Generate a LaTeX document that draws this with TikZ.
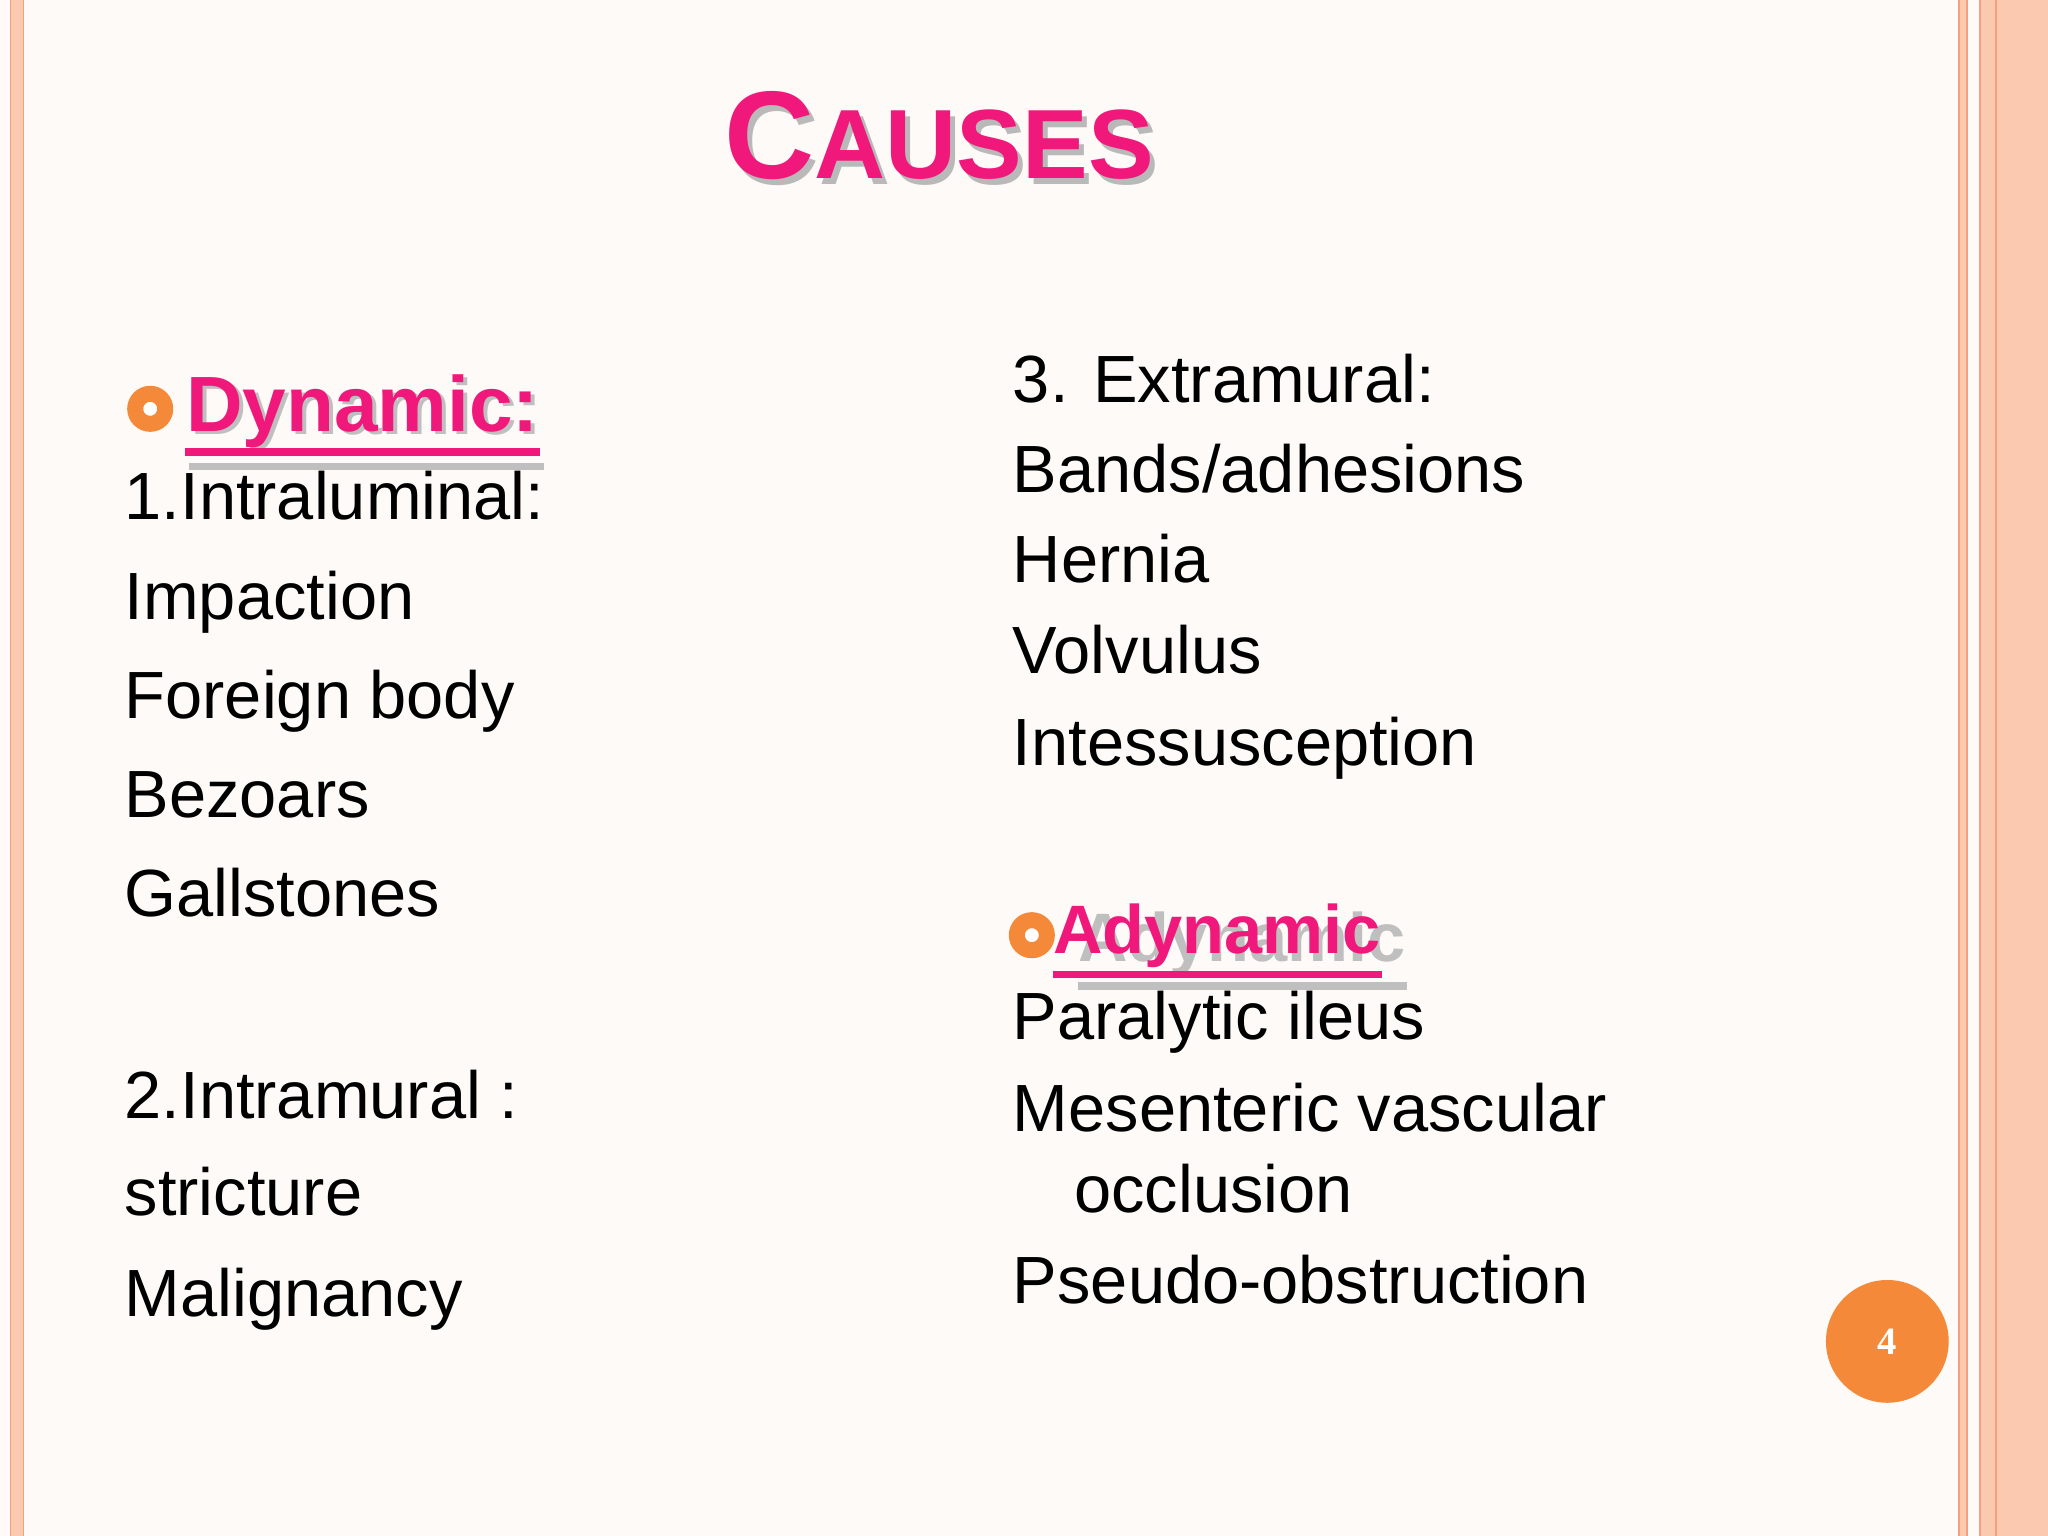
\documentclass[tikz,border=0pt]{standalone}
\usepackage{fontspec}
\setmainfont{Liberation Sans}
\newfontfamily\serifnum{Liberation Serif}
\definecolor{bg}{HTML}{FEFAF7}
\definecolor{peach}{HTML}{FBC8B0}
\definecolor{edge}{HTML}{F4A080}
\definecolor{hot}{HTML}{F0187A}
\definecolor{orng}{HTML}{F5893A}
\begin{document}
\begin{tikzpicture}[x=0.01306cm,y=-0.01306cm,
  body/.style={anchor=base west,inner sep=0pt,font=\fontsize{19}{22}\selectfont},
  head/.style={anchor=base west,inner sep=0pt,font=\bfseries,text=hot},
  ul/.style={line width=2.2pt},
  bul/.style={circle,draw=orng,line width=1.6mm,fill=white,minimum size=0.3cm,inner sep=0pt}]
\fill[bg] (0,0) rectangle (1568,1176);
\useasboundingbox (0,0) rectangle (1568,1176);
% left border
\fill[peach] (8,0) rectangle (18,1176);
\draw[edge,line width=0.4pt] (8,0) -- (8,1176) (18,0) -- (18,1176);
% right border
\fill[peach] (1500,0) rectangle (1568,1176);
\fill[bg] (1506,0) rectangle (1516,1176);
\draw[edge,line width=0.5pt] (1500,0) -- (1500,1176) (1506,0) -- (1506,1176) (1516,0) -- (1516,1176) (1528,0) -- (1528,1176);
% title
\node[anchor=base,inner sep=0pt,text=gray!55,font=\bfseries] (tshadow) at (723,141)
 {\fontsize{35.5}{38}\selectfont C\fontsize{28}{32}\selectfont AUSES};
\node[anchor=base,inner sep=0pt,text=hot,font=\bfseries] (title) at (719,137)
 {\fontsize{35.5}{38}\selectfont C\fontsize{28}{32}\selectfont AUSES};
% left column
\node[bul] (b1) at (115,313) {};
\node[head,text=gray!50,font=\bfseries\fontsize{22.3}{26}\selectfont] (dyns) at (145,333) {Dynamic:};
\draw[gray!50,ul] ([yshift=-9pt]dyns.base west) -- ([yshift=-9pt]dyns.base east);
\node[head,font=\bfseries\fontsize{22.3}{26}\selectfont] (dyn) at (142,330) {Dynamic:};
\draw[hot,ul] ([yshift=-6pt]dyn.base west) -- ([yshift=-6pt]dyn.base east);
\node[body] (l1) at (95,398) {1.Intraluminal:};
\node[body] (l2) at (95,474) {Impaction};
\node[body] (l3) at (95,550) {Foreign body};
\node[body] (l4) at (95,626) {Bezoars};
\node[body] (l5) at (95,702) {Gallstones};
\node[body] (l6) at (95,856) {2.Intramural :};
\node[body] (l7) at (95,931) {stricture};
\node[body] (l8) at (95,1008) {Malignancy};
% right column
\node[body] (r1) at (775,308) {3. Extramural:};
\node[body] (r2) at (775,377) {Bands/adhesions};
\node[body] (r3) at (775,446) {Hernia};
\node[body] (r4) at (775,516) {Volvulus};
\node[body] (r5) at (775,586) {Intessusception};
\node[bul] (b2) at (790,716) {};
\node[head,text=gray!50,font=\bfseries\fontsize{19.5}{24}\selectfont] (adys) at (825,736) {Adynamic};
\draw[gray!50,ul] ([yshift=-7pt]adys.base west) -- ([yshift=-7pt]adys.base east);
\node[head,font=\bfseries\fontsize{19.5}{24}\selectfont] (ady) at (806,730) {Adynamic};
\draw[hot,ul] ([yshift=-6pt]ady.base west) -- ([yshift=-6pt]ady.base east);
\node[body] (r6) at (775,796) {Paralytic ileus};
\node[body] (r7) at (775,866) {Mesenteric vascular};
\node[body] (r8) at (822,928) {occlusion};
\node[body] (r9) at (775,998) {Pseudo-obstruction};
% page number
\node[circle,fill=orng,minimum size=94*0.01306cm,inner sep=0pt,text=white,font=\serifnum\bfseries\fontsize{11}{12}\selectfont] (pg) at (1445,1027) {4};
\end{tikzpicture}
\end{document}
